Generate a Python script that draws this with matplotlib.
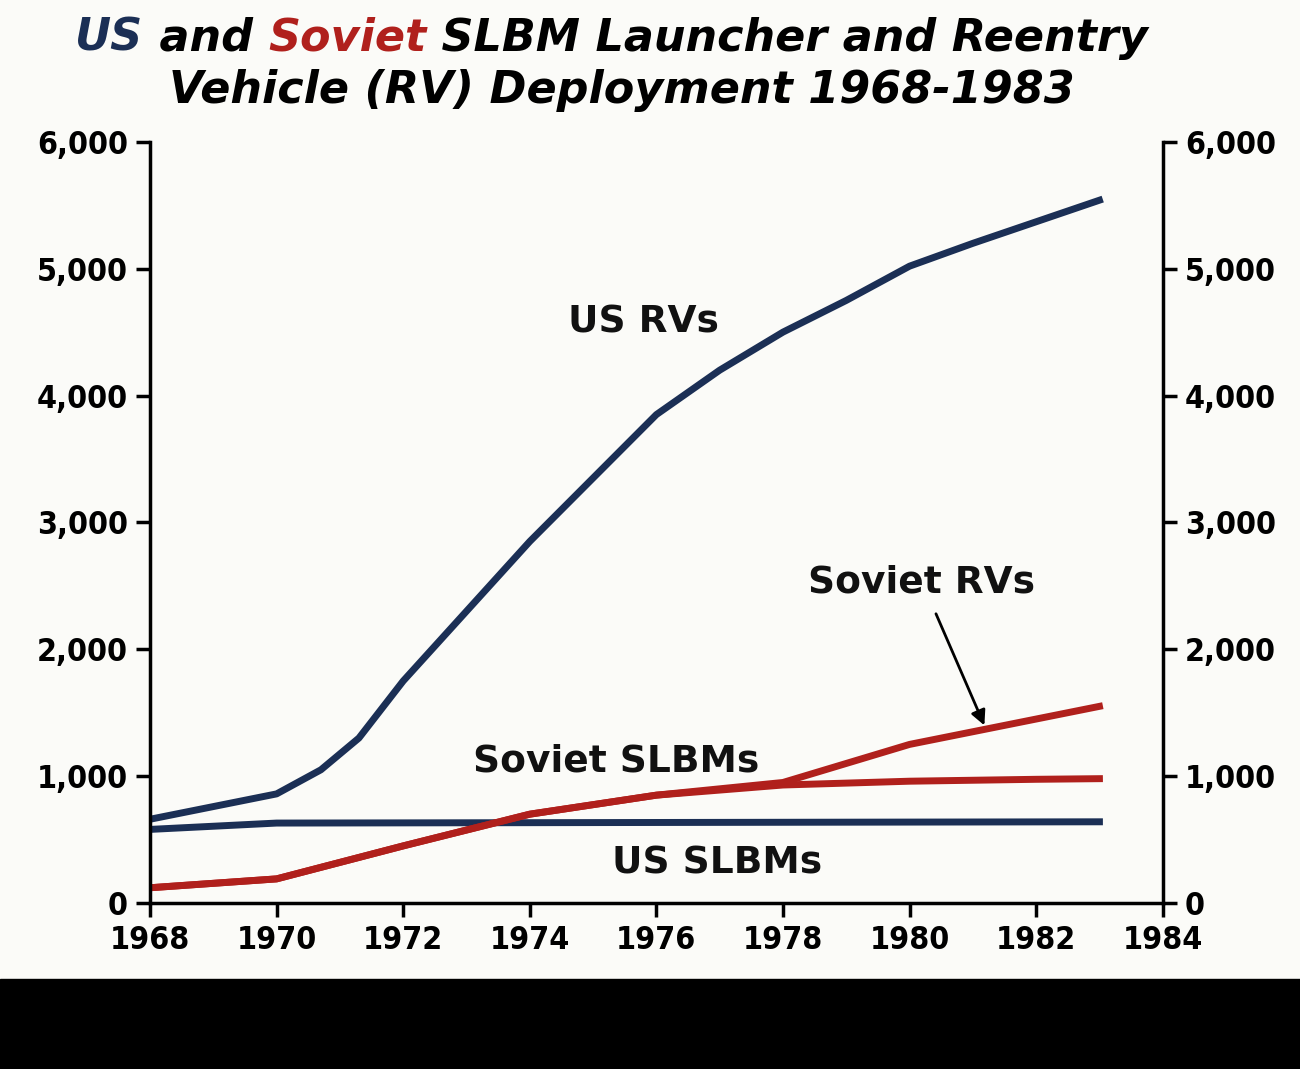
import matplotlib
matplotlib.use("Agg")
import matplotlib.pyplot as plt
from matplotlib.ticker import FuncFormatter

years_us_rv = [1968, 1970, 1970.7, 1971.3, 1972, 1973, 1974, 1975, 1976, 1977, 1978, 1979, 1980, 1981, 1982, 1983]
us_rvs = [660, 860, 1050, 1300, 1750, 2300, 2850, 3350, 3850, 4200, 4500, 4750, 5020, 5200, 5370, 5540]
years_us_slbm = [1968, 1970, 1983]
us_slbms = [580, 630, 640]
years_sov = [1968, 1970, 1972, 1974, 1976, 1978, 1980, 1982, 1983]
sov_rvs = [120, 190, 450, 700, 850, 950, 1250, 1450, 1550]
sov_slbms = [120, 190, 450, 700, 850, 930, 960, 975, 980]
xticks = [1968, 1970, 1972, 1974, 1976, 1978, 1980, 1982, 1984]
yticks = [0, 1000, 2000, 3000, 4000, 5000, 6000]

BLUE = "#1b2f55"
RED = "#b0201c"

fig = plt.figure(figsize=(13, 10.69), dpi=100)
fig.patch.set_facecolor("#fbfbf8")
ax = fig.add_axes([0.1154, 0.1553, 0.779, 0.712])
ax.set_facecolor("#fbfbf8")
ax.plot(years_us_rv, us_rvs, color=BLUE, lw=5)
ax.plot(years_us_slbm, us_slbms, color=BLUE, lw=5)
ax.plot(years_sov, sov_slbms, color=RED, lw=5)
ax.plot(years_sov, sov_rvs, color=RED, lw=5)
ax.set_xlim(1968, 1984)
ax.set_ylim(0, 6000)
fmt = FuncFormatter(lambda v, p: f"{int(v):,}")
ax.set_xticks(xticks)
ax.set_yticks(yticks)
ax.yaxis.set_major_formatter(fmt)
ax.tick_params(axis="both", labelsize=23, width=2.5, length=10, colors="black", pad=6)
ax.tick_params(axis="y", right=True, labelright=True)
for s in ["left", "bottom", "right"]:
    ax.spines[s].set_linewidth(2.5)
ax.spines["top"].set_visible(False)
for lab in ax.get_xticklabels() + ax.get_yticklabels():
    lab.set_fontstretch("condensed")
    lab.set_fontweight("semibold")

kw = dict(fontsize=27, fontweight="bold", color="#111111")
ax.text(1974.6, 4500, "US RVs", **kw)
ax.text(1978.4, 2450, "Soviet RVs", **kw)
ax.text(1973.1, 1040, "Soviet SLBMs", **kw)
ax.text(1975.3, 230, "US SLBMs", **kw)
ax.annotate("", xy=(1981.2, 1380), xytext=(1980.4, 2300),
            arrowprops=dict(arrowstyle="-|>", color="black", lw=2, mutation_scale=22))

tk = dict(fontsize=32, fontweight="bold", fontstyle="italic", va="center")
y1 = 1 - 38 / 1069
t1 = fig.text(0.058, y1, "US", color=BLUE, **tk)
fig.canvas.draw()
r = fig.canvas.get_renderer()
x = t1.get_window_extent(r).x1 / 1300
t2 = fig.text(x, y1, " and ", color="black", **tk)
x = t2.get_window_extent(r).x1 / 1300
t3 = fig.text(x, y1, "Soviet", color=RED, **tk)
x = t3.get_window_extent(r).x1 / 1300
fig.text(x, y1, " SLBM Launcher and Reentry", color="black", **tk)
fig.text(0.478, 1 - 90 / 1069, "Vehicle (RV) Deployment 1968-1983", color="black", ha="center", **tk)

fig.patches.append(plt.Rectangle((0, 0), 1, 90 / 1069, transform=fig.transFigure, color="black"))
fig.savefig("out.png", dpi=100, facecolor=fig.get_facecolor())
